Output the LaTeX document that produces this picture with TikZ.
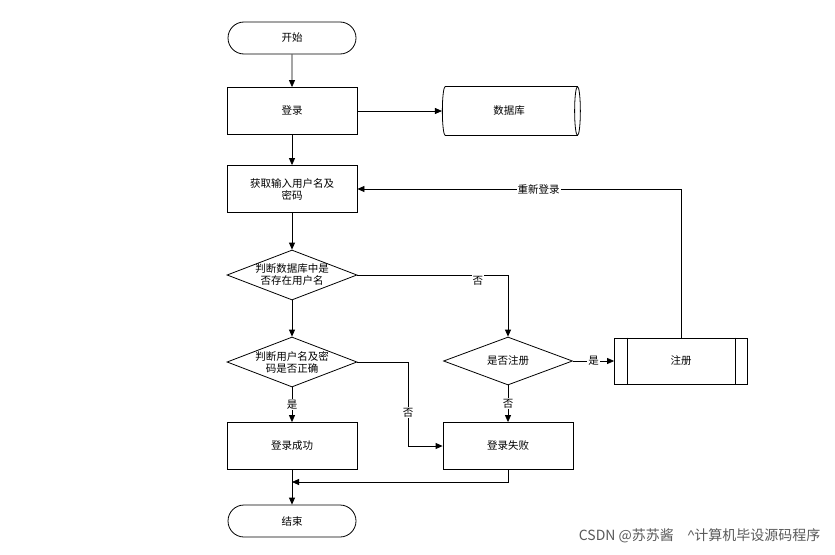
\documentclass[tikz,border=0pt]{standalone}
\usepackage{fontspec}
\setmainfont{Liberation Sans}
\newfontfamily\cjk{Noto Sans CJK SC}
\usetikzlibrary{shapes.geometric,shapes.misc,arrows.meta}
\begin{document}
\begin{tikzpicture}[x=1pt,y=-1pt,font=\cjk\fontsize{10.5}{12}\selectfont,
  base/.style={draw,line width=0.8pt,minimum width=130pt,align=center,inner sep=1pt},
  proc/.style={base,rectangle,minimum height=47pt},
  term/.style={base,rounded rectangle,minimum height=32pt},
  dec/.style={base,diamond,aspect=2.6,minimum width=130pt,minimum height=50pt,inner sep=0pt},
  line/.style={line width=0.8pt},
  arr/.style={line,-{Triangle[length=7pt,width=6pt]}},
  lab/.style={fill=white,inner sep=1pt}]
\useasboundingbox (0,0) rectangle (835,554);
\node[term] (start) at (292,38) {开始};
\node[proc] (login) at (292,111) {登录};
\node[draw,line width=0.8pt,cylinder,shape aspect=0.35,minimum width=49pt,minimum height=138pt] (db) at (509,111) {数据库};
\node[proc,text width=122pt] (get) at (292,189) {获取输入用户名及\\密码};
\node[dec] (d1) at (292,275) {};
\node[align=center] (d1t) at (d1) {判断数据库中是\\否存在用户名};
\node[dec] (d2) at (292,362) {};
\node[align=center] (d2t) at (d2) {判断用户名及密\\码是否正确};
\node[dec,minimum width=129pt,minimum height=48pt] (d3) at (508,361) {是否注册};
\node[proc,minimum width=133pt,minimum height=46pt] (reg) at (681,361) {注册};
\draw[line] ([xshift=13pt]reg.north west) -- ([xshift=13pt]reg.south west);
\draw[line] ([xshift=-13pt]reg.north east) -- ([xshift=-13pt]reg.south east);
\node[proc] (ok) at (292,446) {登录成功};
\node[proc] (fail) at (508,446) {登录失败};
\node[term] (end) at (292,521) {结束};
\coordinate (m) at (292,482);
\draw[arr] (start) -- (login);
\draw[arr] (login) -- (db);
\draw[arr] (login) -- (get);
\draw[arr] (get) -- (d1);
\draw[arr] (d1) -- (d2);
\draw[arr] (d1.east) -| node[pos=0.4,below,lab]{否} (d3.north);
\draw[arr] (d2) -- node[lab]{是} (ok);
\draw[arr] (d2.east) -- (408,362) |- node[pos=0.3,lab]{否} (fail.west);
\draw[arr] (d3) -- node[lab]{否} (fail);
\draw[arr] (d3) -- node[lab]{是} (reg);
\draw[arr] (reg.north) |- node[pos=0.72,lab]{重新登录} (get.east);
\draw[arr] (fail.south) |- (m);
\draw[arr] (ok) -- (end);
\node[anchor=east,text=gray!70!black,font=\cjk\fontsize{14}{16}\selectfont] (wm) at (824,536) {CSDN @苏苏酱\quad {\fontspec{Liberation Sans}\textasciicircum}计算机毕设源码程序};
\end{tikzpicture}
\end{document}
